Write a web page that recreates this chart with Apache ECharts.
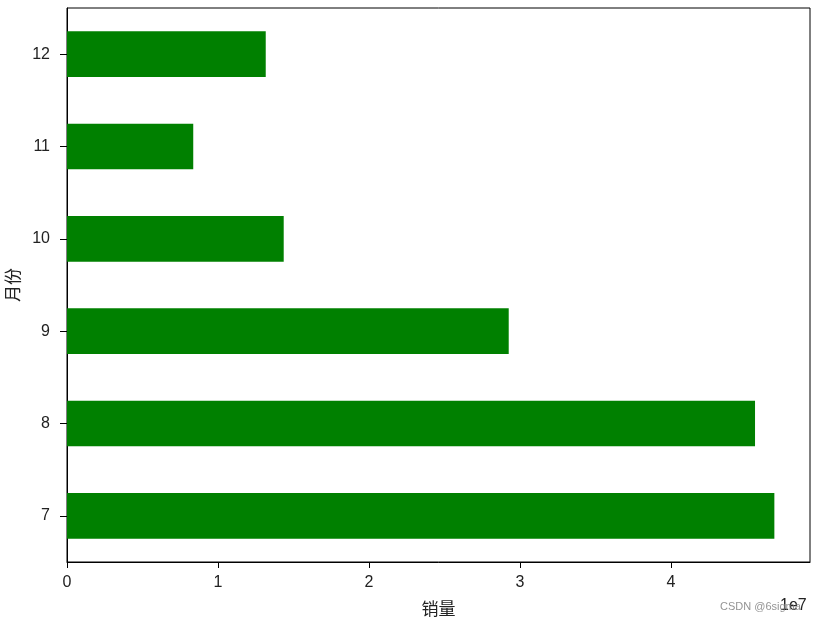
<!DOCTYPE html>
<html>
<head>
<meta charset="utf-8">
<script src="https://cdn.jsdelivr.net/npm/echarts@6/dist/echarts.min.js"></script>
<style>html,body{margin:0;padding:0;background:#fff}#c{width:817px;height:625px}</style>
</head>
<body>
<div id="c"></div>
<script>
const months = ['7', '8', '9', '10', '11', '12'];
const sales = [46840000, 45560000, 29250000, 14350000, 8360000, 13160000];
const xTicks = [0, 1, 2, 3, 4];
const xMax = 49200000;

const chart = echarts.init(document.getElementById('c'));
const font = '"Liberation Sans", "Noto Sans CJK SC", sans-serif';
chart.setOption({
  animation: false,
  grid: { left: 67, right: 7, top: 8, bottom: 63, containLabel: false, outerBoundsMode: 'none', show: true, borderColor: '#000', borderWidth: 1, backgroundColor: 'transparent' },
  xAxis: {
    type: 'value', min: 0, max: xMax, interval: 10000000,
    name: '销量', nameLocation: 'middle', nameGap: 38,
    nameTextStyle: { color: '#222', fontSize: 17, fontFamily: '"Noto Sans CJK SC", sans-serif' },
    axisLine: { show: true, onZero: false, lineStyle: { color: '#000', width: 1 } },
    axisTick: { show: true, length: 6, lineStyle: { color: '#000' } },
    splitLine: { show: false },
    axisLabel: {
      color: '#222', fontSize: 16, fontFamily: font, margin: 13, showMaxLabel: false,
      formatter: v => { const t = v / 10000000; return xTicks.includes(Math.round(t * 1000) / 1000) ? String(Math.round(t)) : ''; }
    }
  },
  yAxis: {
    type: 'category', data: months,
    name: '月份', nameLocation: 'middle', nameGap: 46, nameRotate: 90,
    nameTextStyle: { color: '#222', fontSize: 17, fontFamily: '"Noto Sans CJK SC", sans-serif' },
    axisLine: { show: true, onZero: false, lineStyle: { color: '#000', width: 1 } },
    axisTick: { show: true, length: 7, alignWithLabel: true, lineStyle: { color: '#000', width: 1 } },
    axisLabel: { color: '#222', fontSize: 16, fontFamily: font, margin: 17 }
  },
  series: [{
    type: 'bar', data: sales, barWidth: '49.5%',
    itemStyle: { color: '#008000' }
  }],
  graphic: [
    { type: 'text', left: 780, top: 598, style: { text: '1e7', fill: '#222', font: '16px "Liberation Sans", sans-serif' } },
    { type: 'text', left: 720, top: 601, style: { text: 'CSDN @6sigma', fill: 'rgba(120,120,120,0.8)', font: '11px "Liberation Sans", sans-serif' } }
  ]
});
</script>
</body>
</html>
